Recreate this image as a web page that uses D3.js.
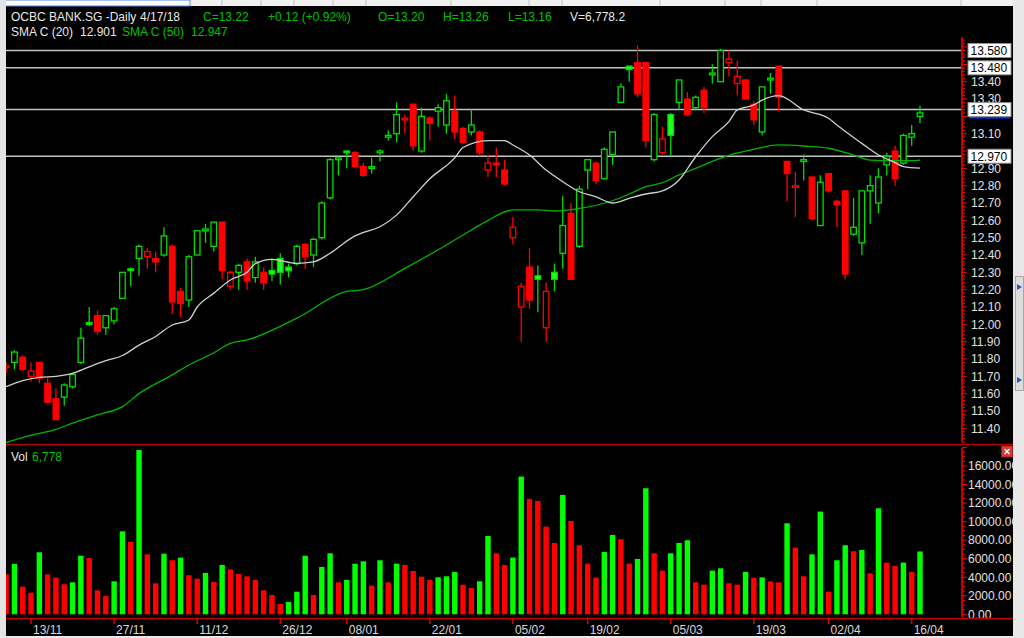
<!DOCTYPE html>
<html>
<head>
<meta charset="utf-8">
<script src="https://cdn.jsdelivr.net/npm/d3@7"></script>
<style>
  html, body { margin: 0; padding: 0; background: #000; overflow: hidden; }
</style>
</head>
<body>
<div id="chart"></div>
<script>
// trading days shown (dd/mm), 08/11/2017 .. 17/04/2018
const dates = [
  '08/11','09/11','10/11','13/11','14/11','15/11','16/11','17/11','20/11','21/11','22/11','23/11','24/11','27/11','28/11','29/11','30/11',
  '01/12','04/12','05/12','06/12','07/12','08/12','11/12','12/12','13/12','14/12','15/12','18/12','19/12','20/12','21/12','22/12','26/12','27/12','28/12','29/12',
  '02/01','03/01','04/01','05/01','08/01','09/01','10/01','11/01','12/01','15/01','16/01','17/01','18/01','19/01','22/01','23/01','24/01','25/01','26/01','29/01','30/01','31/01',
  '01/02','02/02','05/02','06/02','07/02','08/02','09/02','12/02','13/02','14/02','15/02','19/02','20/02','21/02','22/02','23/02','26/02','27/02','28/02',
  '01/03','02/03','05/03','06/03','07/03','08/03','09/03','12/03','13/03','14/03','15/03','16/03','19/03','20/03','21/03','22/03','23/03','26/03','27/03','28/03','29/03',
  '02/04','03/04','04/04','05/04','06/04','09/04','10/04','11/04','12/04','13/04','16/04','17/04'
];

const open = [
  11.75,11.78,11.81,11.70,11.78,11.66,11.57,11.58,11.64,11.78,12.01,12.05,11.98,12.02,12.15,12.32,12.38,
  12.39,12.38,12.40,12.45,12.19,12.14,12.40,12.54,12.45,12.59,12.22,12.30,12.36,12.27,12.30,12.31,12.38,12.33,12.35,12.46,
  12.40,12.50,12.73,12.95,13.00,12.99,12.91,12.90,12.99,13.08,13.10,13.18,13.27,13.00,13.19,13.23,13.15,13.23,13.13,13.11,13.11,12.89,
  12.93,12.89,12.50,12.10,12.33,12.28,11.98,12.30,12.41,12.64,12.45,12.89,12.93,12.84,12.98,13.28,13.49,13.51,13.51,
  12.95,12.99,13.21,13.28,13.30,13.25,13.35,13.44,13.40,13.51,13.39,13.41,13.27,13.11,13.41,13.49,12.94,12.79,12.94,12.85,12.57,
  12.87,12.71,12.77,12.52,12.47,12.77,12.70,12.92,13.00,12.93,13.08,13.20
];
const high = [
  11.78,11.85,11.82,11.78,11.78,11.69,11.63,11.66,11.72,11.98,12.10,12.08,12.05,12.10,12.30,12.33,12.46,
  12.44,12.42,12.56,12.46,12.21,12.40,12.54,12.58,12.59,12.59,12.31,12.35,12.38,12.39,12.33,12.38,12.41,12.35,12.46,12.47,
  12.50,12.71,12.96,12.97,13.00,13.00,12.93,12.96,13.01,13.12,13.28,13.21,13.27,13.25,13.20,13.27,13.33,13.32,13.14,13.24,13.12,12.98,
  13.02,12.95,12.62,12.24,12.44,12.34,12.24,12.35,12.74,12.70,12.80,12.95,12.94,13.02,13.11,13.39,13.49,13.61,13.51,
  13.22,13.14,13.22,13.41,13.34,13.32,13.37,13.50,13.59,13.58,13.52,13.41,13.29,13.37,13.45,13.49,12.94,12.88,12.98,12.85,12.86,
  12.87,12.72,12.77,12.73,12.77,12.86,12.90,12.99,13.03,13.10,13.15,13.26
];
const low = [
  11.72,11.74,11.73,11.67,11.66,11.55,11.45,11.53,11.63,11.77,11.99,11.94,11.94,12.00,12.15,12.22,12.28,
  12.32,12.30,12.39,12.06,12.04,12.10,12.40,12.47,12.42,12.26,12.20,12.20,12.20,12.24,12.20,12.25,12.23,12.27,12.34,12.32,
  12.33,12.49,12.72,12.86,12.90,12.90,12.85,12.87,12.94,13.06,13.05,13.10,13.00,12.99,13.06,13.14,13.10,13.07,13.04,13.09,12.97,12.85,
  12.85,12.80,12.46,11.90,12.09,12.07,11.90,12.19,12.32,12.26,12.44,12.78,12.81,12.84,12.92,13.28,13.40,13.31,13.02,
  12.94,12.98,12.97,13.24,13.20,13.24,13.22,13.39,13.40,13.43,13.32,13.30,13.15,13.09,13.33,13.23,12.71,12.62,12.83,12.60,12.57,
  12.76,12.56,12.26,12.51,12.40,12.58,12.64,12.86,12.80,12.92,13.03,13.16
];
const close = [
  11.76,11.84,11.74,11.73,11.69,11.55,11.45,11.65,11.71,11.92,12.00,11.96,12.05,12.09,12.30,12.31,12.45,
  12.42,12.36,12.51,12.13,12.12,12.39,12.54,12.55,12.59,12.31,12.30,12.34,12.25,12.36,12.24,12.29,12.30,12.31,12.45,12.39,
  12.49,12.70,12.95,12.96,12.99,12.91,12.86,12.91,13.00,13.09,13.21,13.19,13.03,13.20,13.16,13.25,13.29,13.11,13.05,13.15,12.99,12.93,
  12.92,12.81,12.56,12.22,12.14,12.26,12.19,12.26,12.57,12.26,12.78,12.95,12.83,13.01,13.11,13.37,13.47,13.33,13.06,
  13.21,13.07,13.09,13.41,13.21,13.31,13.25,13.45,13.58,13.53,13.43,13.30,13.18,13.37,13.42,13.31,12.87,12.80,12.95,12.61,12.82,
  12.77,12.69,12.29,12.56,12.77,12.80,12.85,12.97,12.84,13.09,13.10,13.22
];
const prevClose = 11.78;

const volume = [
  4310,5430,2980,2330,6690,4310,3950,3240,3450,6320,6070,2590,1970,3560,8950,7830,17720,
  6470,3340,6540,5830,6110,4210,3840,4460,3480,5320,4850,4350,4100,3700,2590,2080,1110,1330,2440,6320,
  2080,5100,6580,3450,3700,5460,5720,3090,5830,3450,5460,5320,4670,4060,3700,3990,4100,4560,3190,2840,3560,8450,
  6580,5320,6120,14860,12450,12230,9460,7700,12880,10070,7450,5470,3960,6730,8560,8090,5470,5970,13600,
  6580,4710,6580,7700,7990,3450,3200,4710,4960,3350,3200,4570,3940,3980,3560,3450,9820,7190,4100,6470,11080,
  2450,5830,7450,6800,6940,4420,11440,5580,5220,5580,4570,6778
];
const prevVolume = 5000;

// moving averages: [day index, value]
const sma20 = [
  [0,11.64],[2,11.675],[4,11.694],[6,11.70],[8,11.717],[10,11.755],[12,11.79],[14,11.82],[16,11.88],[18,11.93],
  [20,11.996],[22,12.025],[23,12.10],[25,12.18],[27,12.256],[29,12.30],[30,12.35],[32,12.375],[35,12.352],[37,12.36],
  [39,12.41],[42,12.51],[43,12.53],[45,12.563],[47,12.63],[49,12.736],[51,12.84],[54,12.96],[55,13.02],[58,13.06],
  [60,13.06],[61,13.035],[63,12.977],[65,12.89],[67,12.823],[69,12.765],[71,12.736],[73,12.70],[75,12.727],[77,12.752],
  [79,12.77],[81,12.833],[83,12.967],[85,13.083],[87,13.17],[88,13.237],[90,13.266],[91,13.294],[93,13.32],[96,13.237],
  [99,13.189],[100,13.15],[103,13.044],[105,12.977],[107,12.933],[108,12.91],[110,12.901]
];
const sma50 = [
  [0,11.317],[3,11.36],[6,11.394],[8,11.43],[11,11.477],[14,11.525],[16,11.60],[20,11.708],[22,11.765],[25,11.836],
  [27,11.89],[29,11.91],[35,12.036],[41,12.19],[43,12.20],[48,12.323],[52,12.43],[56,12.544],[58,12.60],[61,12.66],
  [64,12.66],[66,12.654],[69,12.669],[73,12.713],[75,12.752],[77,12.794],[79,12.817],[81,12.862],[83,12.90],[85,12.94],
  [87,12.975],[90,13.01],[93,13.035],[96,13.029],[99,13.016],[102,12.977],[104,12.948],[107,12.944],[109,12.944],[110,12.947]
];

const dateTicks = ['13/11','27/11','11/12','26/12','08/01','22/01','05/02','19/02','05/03','19/03','02/04','16/04'];
const priceTicks = [11.4,11.5,11.6,11.7,11.8,11.9,12.0,12.1,12.2,12.3,12.4,12.5,12.6,12.7,12.8,12.9,13.0,13.1,13.2,13.3,13.4,13.5,13.6];
const volTicks = [0,2000,4000,6000,8000,10000,12000,14000,16000];
const refLevels = [13.58, 13.48, 13.239, 12.97];

const W = 1024, H = 638;
const GREEN = '#00dd00', RED = '#ff0000';
const svg = d3.select('#chart').append('svg')
  .attr('width', W).attr('height', H)
  .style('font-family', '"Liberation Sans", Arial, sans-serif')
  .style('font-size', '12px');

svg.append('rect').attr('width', W).attr('height', H).attr('fill', '#000');

const x = d3.scalePoint().domain(dates).range([6.1, 920]);
const y = d3.scaleLinear().domain([11.31, 13.64]).range([443.9, 40.1]);
const yv = d3.scaleLinear().domain([0, 16000]).range([614.3, 466]);

const defs = svg.append('defs');
defs.append('clipPath').attr('id', 'clipP').append('rect').attr('x', 6).attr('y', 37).attr('width', 955).attr('height', 406);
defs.append('clipPath').attr('id', 'clipV').append('rect').attr('x', 6).attr('y', 446).attr('width', 955).attr('height', 171);

// price panel
const plot = svg.append('g').attr('clip-path', 'url(#clipP)');

plot.selectAll('line.ref').data(refLevels).join('line')
  .attr('x1', 6).attr('x2', 962)
  .attr('y1', d => y(d)).attr('y2', d => y(d))
  .attr('stroke', '#c4c4c4').attr('stroke-width', 1.5);

const colorOf = i => close[i] >= (i === 0 ? prevClose : close[i - 1]) ? GREEN : RED;
const idx = d3.range(dates.length);

const candle = plot.selectAll('g.candle').data(idx).join('g').attr('class', 'candle');
candle.append('line')
  .attr('x1', i => x(dates[i])).attr('x2', i => x(dates[i]))
  .attr('y1', i => y(high[i])).attr('y2', i => y(low[i]))
  .attr('stroke', colorOf).attr('stroke-width', 1.3);
candle.append('rect')
  .attr('x', i => x(dates[i]) - 2.8).attr('width', 5.6)
  .attr('y', i => y(Math.max(open[i], close[i])))
  .attr('height', i => Math.max(1, Math.abs(y(open[i]) - y(close[i]))))
  .attr('fill', i => close[i] > open[i] ? '#000' : (colorOf(i) === GREEN ? '#22ff22' : RED))
  .attr('stroke', colorOf).attr('stroke-width', 1.3);

const maLine = d3.line().x(d => x(dates[d[0]])).y(d => y(d[1])).curve(d3.curveMonotoneX);
plot.append('path').datum(sma50).attr('d', maLine)
  .attr('fill', 'none').attr('stroke', '#00b400').attr('stroke-width', 1.3);
plot.append('path').datum(sma20).attr('d', maLine)
  .attr('fill', 'none').attr('stroke', '#d0d0d0').attr('stroke-width', 1.3);

// price axis
svg.append('line').attr('x1', 962).attr('x2', 962).attr('y1', 37).attr('y2', 442)
  .attr('stroke', '#ff0000').attr('stroke-width', 1.5);
svg.append('g').selectAll('line').data(d3.range(11.32, 13.645, 0.02)).join('line')
  .attr('x1', 962).attr('x2', (d, i) => (i % 5 === 4) ? 967 : 965)
  .attr('y1', d => y(d)).attr('y2', d => y(d))
  .attr('stroke', '#ff0000').attr('stroke-width', 1);
// labels sitting under a level box are hidden, as in the original
const hidden = d => refLevels.some(l => Math.abs(y(l) - y(d)) < 8);
svg.append('g').selectAll('text').data(priceTicks.filter(d => !hidden(d))).join('text')
  .attr('x', 971).attr('y', d => y(d)).attr('dy', '0.36em')
  .attr('fill', '#e0e0e0').text(d => d.toFixed(2));

const boxes = svg.append('g').selectAll('g').data(refLevels).join('g')
  .attr('transform', d => `translate(968,${y(d)})`);
boxes.filter(d => d === 13.239).append('rect')
  .attr('x', 1).attr('y', 5).attr('width', 41).attr('height', 4).attr('fill', '#0030ff');
boxes.append('rect').attr('x', 0).attr('y', -7).attr('width', 43).attr('height', 14)
  .attr('fill', '#ffffff').attr('stroke', '#909090').attr('stroke-width', 1);
boxes.append('text').attr('x', 2.5).attr('y', 0).attr('dy', '0.36em')
  .attr('fill', '#000').text(d => d.toFixed(3));

// panel divider
svg.append('line').attr('x1', 6).attr('x2', 1013).attr('y1', 444.5).attr('y2', 444.5)
  .attr('stroke', '#b00000').attr('stroke-width', 1.5);

// volume panel
const vplot = svg.append('g').attr('clip-path', 'url(#clipV)');
const volColor = i => volume[i] >= (i === 0 ? prevVolume : volume[i - 1]) ? '#00ff00' : RED;
vplot.selectAll('rect').data(idx).join('rect')
  .attr('x', i => x(dates[i]) - 2.7).attr('width', 5.4)
  .attr('y', i => yv(volume[i])).attr('height', i => yv(0) - yv(volume[i]))
  .attr('fill', volColor);

svg.append('line').attr('x1', 962).attr('x2', 962).attr('y1', 448).attr('y2', 617)
  .attr('stroke', '#ff0000').attr('stroke-width', 1.5);
svg.append('g').selectAll('line').data(d3.range(0, 18001, 500)).join('line')
  .attr('x1', 962).attr('x2', d => d % 2000 === 0 ? 967 : 965)
  .attr('y1', d => yv(d)).attr('y2', d => yv(d))
  .attr('stroke', '#ff0000').attr('stroke-width', 1);
svg.append('g').selectAll('text').data(volTicks).join('text')
  .attr('x', 968).attr('y', d => yv(d)).attr('dy', '0.36em')
  .attr('fill', '#e0e0e0').text(d => d3.format('.2f')(d));

svg.append('text').attr('x', 11).attr('y', 461).attr('fill', '#e8e8e8').text('Vol');
svg.append('text').attr('x', 32).attr('y', 461).attr('fill', '#00c000')
  .text(d3.format(',')(Math.round(volume[volume.length - 1])));

// date axis
svg.append('line').attr('x1', 6).attr('x2', 1013).attr('y1', 618.5).attr('y2', 618.5)
  .attr('stroke', '#c00000').attr('stroke-width', 1.5);
const dt = svg.append('g').selectAll('g').data(dateTicks).join('g')
  .attr('transform', d => `translate(${x(d)},618)`);
dt.append('line').attr('y1', 0).attr('y2', 6).attr('stroke', '#e00000').attr('stroke-width', 1.5);
dt.append('text').attr('x', 2).attr('y', 16).attr('fill', '#d8d8d8').text(d => d);

// header
const hdr = svg.append('g');
const line1 = [
  ['OCBC BANK.SG -Daily', 11, '#e8e8e8'], ['4/17/18', 140, '#e8e8e8'],
  [`C=${close[110].toFixed(2)}`, 203, '#00c000'],
  [`+${(close[110] - close[109]).toFixed(2)} (+${((close[110] - close[109]) / close[109] * 100).toFixed(2)}%)`, 268, '#00c000'],
  [`O=${open[110].toFixed(2)}`, 378, '#00c000'], [`H=${high[110].toFixed(2)}`, 443, '#00c000'],
  [`L=${low[110].toFixed(2)}`, 508, '#00c000'], ['V=6,778.2', 570, '#e8e8e8']
];
hdr.selectAll('text.l1').data(line1).join('text')
  .attr('x', d => d[1]).attr('y', 21).attr('fill', d => d[2]).text(d => d[0]);
const line2 = [
  ['SMA C (20)', 11, '#e8e8e8'], [sma20[sma20.length - 1][1].toFixed(3), 80, '#e8e8e8'],
  ['SMA C (50)', 122, '#00c000'], [sma50[sma50.length - 1][1].toFixed(3), 191, '#00c000']
];
hdr.selectAll('text.l2').data(line2).join('text')
  .attr('x', d => d[1]).attr('y', 36).attr('fill', d => d[2]).text(d => d[0]);

// window frame
svg.append('rect').attr('x', 0).attr('y', 0).attr('width', W).attr('height', 6).attr('fill', '#f0f0f0');
svg.append('rect').attr('x', 0).attr('y', 0).attr('width', 190).attr('height', 6).attr('fill', '#fff')
  .attr('stroke', '#4a86d8').attr('stroke-width', 1);
[222, 261, 294, 333, 366, 451, 529, 562, 660, 725, 761, 817, 961].forEach(px => {
  svg.append('line').attr('x1', px).attr('x2', px).attr('y1', 0).attr('y2', 6).attr('stroke', '#c0c0c0');
});
svg.append('rect').attr('x', 0).attr('y', 0).attr('width', 6).attr('height', H).attr('fill', '#e4e4e4');
svg.append('rect').attr('x', 1013).attr('y', 0).attr('width', 11).attr('height', H).attr('fill', '#e8e8e8');
svg.append('rect').attr('x', 0).attr('y', 636).attr('width', W).attr('height', 2).attr('fill', '#e8e8e8');
svg.append('rect').attr('x', 1015.5).attr('y', 276.5).attr('width', 8).attr('height', 114)
  .attr('fill', '#dcdcdc').attr('stroke', '#a8a8a8');
svg.append('path').attr('d', 'M1017,284 L1022,287 L1017,290 Z').attr('fill', '#3050c0');
svg.append('path').attr('d', 'M1017,377 L1022,380 L1017,383 Z').attr('fill', '#3050c0');

// close button of the volume pane
svg.append('rect').attr('x', 1001.5).attr('y', 446).attr('width', 11).attr('height', 11)
  .attr('fill', '#d23a3a').attr('stroke', '#a02020');
svg.append('path').attr('d', 'M1004.5,449 L1009.5,454 M1009.5,449 L1004.5,454')
  .attr('stroke', '#fff').attr('stroke-width', 1.3);
</script>
</body>
</html>
